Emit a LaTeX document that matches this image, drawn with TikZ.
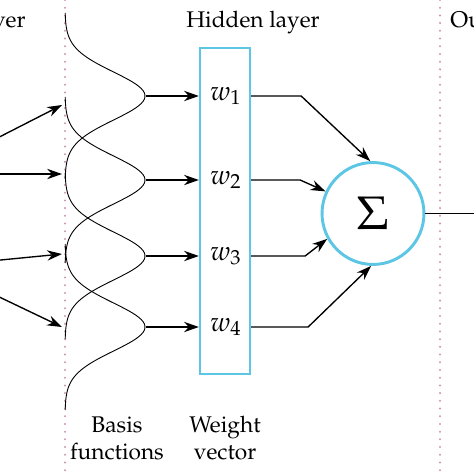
\documentclass[tikz,border=0pt]{standalone}
\usepackage[T1]{fontenc}
\usepackage{mathpazo}
\usetikzlibrary{positioning,calc,arrows.meta}

\definecolor{boxblue}{RGB}{92,198,228}
\definecolor{dotpink}{RGB}{205,150,185}

\begin{document}
\begin{tikzpicture}[x=0.0155cm, y=-0.0155cm, >={Stealth[length=2.3mm,width=1.6mm]},
    border/.style={dotpink, line width=1pt, line cap=round, dash pattern=on 0pt off 3.4pt},
    conn/.style={->, semithick}]
    \useasboundingbox (0,0) rectangle (474,474);
    \clip (0,0) rectangle (474,474);

    % layer borders
    \draw [border] (65,0) -- (65,474);
    \draw [border] (440,0) -- (440,474);

    \node [inner sep=0pt, anchor=east] (inlab) at (26,22) {Input layer};
    \node (hidlab) at (253,22) {Hidden layer};
    \node [inner sep=0pt, anchor=west] (outlab) at (450,22) {Output layer};

    % weight vector and sum
    \node [draw=boxblue, line width=1pt, rectangle, minimum width=0.775cm, minimum height=5.05cm] (wvec) at (225,211) {};
    \node [draw=boxblue, line width=1.3pt, circle, minimum size=1.58cm] (sum) at (373,213.5) {\huge$\Sigma$};
    \coordinate (out) at (490,213.5);
    \draw [semithick] (sum.east) -- (out);

    % basis functions
    \foreach \i/\m/\ys/\yt/\k/\a in {1/96/152/105/50/93, 2/180/174/174/49/155, 3/256/263/254/54/209, 4/327/283/327/57/268} {
        \draw plot[domain=-83:83, samples=80] ({65+80*exp(-(\x*\x)/1152)}, {\m+\x});
        \coordinate (g\i) at (146,\m);
        \coordinate (in\i) at (-30,\ys);
        \coordinate (t\i) at (62,\yt);
        \draw [conn] (in\i) -- (t\i);
        \node (w\i) at (226,\m) {\large$w_\i$};
        \draw [conn] (g\i) -- (wvec.west |- g\i);
        \draw [conn] (wvec.east |- w\i) -- ++(\k,0) -- (sum.\a);
    }

    \node [align=center] (basis) at (117,438) {Basis\\functions};
    \node [align=center] (wlab) at (225,438) {Weight\\vector};
\end{tikzpicture}
\end{document}
